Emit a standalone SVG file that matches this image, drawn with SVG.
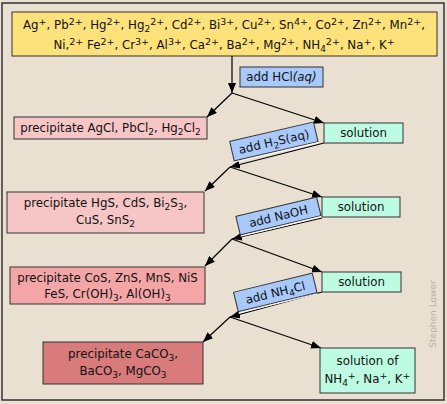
<svg xmlns="http://www.w3.org/2000/svg" width="447" height="404" viewBox="0 0 447 404">
<defs>
<marker id="ah" markerUnits="userSpaceOnUse" markerWidth="10" markerHeight="8" refX="10" refY="4" orient="auto">
<path d="M0,0 L10,4 L0,8 z" fill="#000"/>
</marker>
<style>
text{font-family:"DejaVu Sans","Liberation Sans",sans-serif;font-size:11.8px;fill:#111;}
.c{text-anchor:middle;}
.sup{font-size:9.5px;baseline-shift:4px;}
.sub{font-size:9px;baseline-shift:-3px;}
.box{stroke:#333;stroke-width:1;}
.yel{fill:#fde27b;}
.p1{fill:#f6c6c6;}
.p3{fill:#f4a6a7;}
.p4{fill:#d97b7b;}
.sol{fill:#bdfce2;}
.add{fill:#a9c9fb;stroke:#333;stroke-width:1;}
.hl{stroke:#fff;stroke-width:1;}
.ln{stroke:#000;stroke-width:1.2;fill:none;marker-end:url(#ah);}
.wm{font-size:9px;fill:#b8b2a8;}
</style>
</defs>
<rect x="0" y="0" width="447" height="404" fill="#e9e0d2"/>
<rect x="2" y="3" width="442" height="397" fill="#e9e0d2" stroke="#333" stroke-width="1.5"/>

<g id="ions">
<rect class="box yel" x="12" y="12" width="425" height="44"/>
<text class="c" x="224" y="29">Ag<tspan class="sup">+</tspan>, Pb<tspan class="sup">2+</tspan>, Hg<tspan class="sup">2+</tspan>, Hg<tspan class="sub">2</tspan><tspan class="sup">2+</tspan>, Cd<tspan class="sup">2+</tspan>, Bi<tspan class="sup">3+</tspan>, Cu<tspan class="sup">2+</tspan>, Sn<tspan class="sup">4+</tspan>, Co<tspan class="sup">2+</tspan>, Zn<tspan class="sup">2+</tspan>, Mn<tspan class="sup">2+</tspan>,</text>
<text class="c" x="224" y="49">Ni,<tspan class="sup">2+</tspan> Fe<tspan class="sup">2+</tspan>, Cr<tspan class="sup">3+</tspan>, Al<tspan class="sup">3+</tspan>, Ca<tspan class="sup">2+</tspan>, Ba<tspan class="sup">2+</tspan>, Mg<tspan class="sup">2+</tspan>, NH<tspan class="sub">4</tspan><tspan class="sup">2+</tspan>, Na<tspan class="sup">+</tspan>, K<tspan class="sup">+</tspan></text>
</g>

<g id="connectors">
<line class="ln" x1="232" y1="56" x2="232" y2="93"/>
<line class="ln" x1="232" y1="93" x2="207" y2="117"/>
<line class="ln" x1="232" y1="93" x2="324" y2="123"/>
<line class="ln" x1="324" y1="143" x2="230" y2="167"/>
<line class="ln" x1="230" y1="167" x2="205" y2="191"/>
<line class="ln" x1="230" y1="167" x2="322" y2="197"/>
<line class="ln" x1="322" y1="218" x2="232" y2="239"/>
<line class="ln" x1="232" y1="239" x2="205" y2="266"/>
<line class="ln" x1="232" y1="239" x2="322" y2="272"/>
<line class="ln" x1="322" y1="292" x2="230" y2="317"/>
<line class="ln" x1="230" y1="317" x2="203" y2="342"/>
<line class="ln" x1="230" y1="317" x2="321" y2="348"/>
</g>

<g id="add-hcl">
<rect class="add" x="240" y="67" width="83" height="20"/>
<text class="c" x="281.5" y="81">add HCl<tspan font-style="italic">(aq)</tspan></text>
</g>

<g id="precip-1">
<rect class="box p1" x="14" y="117" width="193" height="22"/>
<text class="c" x="110.5" y="132">precipitate AgCl, PbCl<tspan class="sub">2</tspan>, Hg<tspan class="sub">2</tspan>Cl<tspan class="sub">2</tspan></text>
</g>

<g id="solution-1">
<rect class="box sol" x="324" y="123" width="79" height="20"/>
<text class="c" x="363.5" y="137">solution</text>
</g>

<g id="add-h2s" transform="translate(318,141.5) rotate(-13)">
<rect class="add" x="-86" y="-20" width="86" height="20"/>
<line class="hl" x1="-86" y1="1.3" x2="0" y2="1.3"/>
<text class="c" x="-43" y="-5.5">add H<tspan class="sub">2</tspan>S(aq)</text>
</g>

<g id="precip-2">
<rect class="box p1" x="7" y="192" width="197" height="41"/>
<text class="c" x="105.5" y="207">precipitate HgS, CdS, Bi<tspan class="sub">2</tspan>S<tspan class="sub">3</tspan>,</text>
<text class="c" x="105.5" y="224">CuS, SnS<tspan class="sub">2</tspan></text>
</g>

<g id="solution-2">
<rect class="box sol" x="322" y="197" width="78" height="20"/>
<text class="c" x="361" y="211">solution</text>
</g>

<g id="add-naoh" transform="translate(321,215.5) rotate(-13.5)">
<rect class="add" x="-83" y="-19" width="83" height="19"/>
<line class="hl" x1="-83" y1="1.3" x2="0" y2="1.3"/>
<text class="c" x="-41.5" y="-5">add NaOH</text>
</g>

<g id="precip-3">
<rect class="box p3" x="10" y="267" width="195" height="37"/>
<text class="c" x="107.5" y="282">precipitate CoS, ZnS, MnS, NiS</text>
<text class="c" x="107.5" y="298">FeS, Cr(OH)<tspan class="sub">3</tspan>, Al(OH)<tspan class="sub">3</tspan></text>
</g>

<g id="solution-3">
<rect class="box sol" x="322" y="272" width="79" height="20"/>
<text class="c" x="361.5" y="286">solution</text>
</g>

<g id="add-nh4cl" transform="translate(317,292.5) rotate(-13.7)">
<rect class="add" x="-81" y="-20" width="81" height="20"/>
<line class="hl" x1="-81" y1="1.3" x2="0" y2="1.3"/>
<text class="c" x="-40.5" y="-5.5">add NH<tspan class="sub">4</tspan>Cl</text>
</g>

<g id="precip-4">
<rect class="box p4" x="43" y="342" width="160" height="42"/>
<text class="c" x="123" y="358">precipitate CaCO<tspan class="sub">3</tspan>,</text>
<text class="c" x="123" y="375">BaCO<tspan class="sub">3</tspan>, MgCO<tspan class="sub">3</tspan></text>
</g>

<g id="solution-4">
<rect class="box sol" x="320" y="348" width="95" height="45"/>
<text class="c" x="367.5" y="365">solution of</text>
<text class="c" x="367.5" y="383">NH<tspan class="sub">4</tspan><tspan class="sup">+</tspan>, Na<tspan class="sup">+</tspan>, K<tspan class="sup">+</tspan></text>
</g>

<text class="wm" transform="translate(436,314) rotate(-90)" text-anchor="middle">Stephen Lower</text>
</svg>
